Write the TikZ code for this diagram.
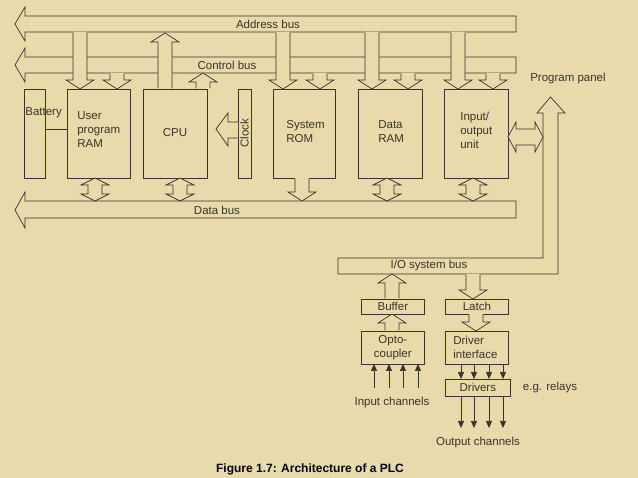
\documentclass[tikz,border=0pt]{standalone}
\usepackage{fontspec}
\setmainfont{Liberation Sans}
\usetikzlibrary{arrows.meta,positioning}
\definecolor{plcbg}{HTML}{E8DAAA}
\definecolor{plcline}{HTML}{3A352A}

% hollow block arrows (x, start, tip)
\newcommand{\blkdown}[3]{%
  \fill[plcbg] (#1-7,#2) -- (#1-7,#3-9) -- (#1-14,#3-9) -- (#1,#3) -- (#1+14,#3-9) -- (#1+7,#3-9) -- (#1+7,#2) -- cycle;
  \draw (#1-7,#2+0.6) -- (#1-7,#3-9) -- (#1-14,#3-9) -- (#1,#3) -- (#1+14,#3-9) -- (#1+7,#3-9) -- (#1+7,#2+0.6);}
\newcommand{\blkup}[3]{%
  \fill[plcbg] (#1-7,#2) -- (#1-7,#3+9) -- (#1-14,#3+9) -- (#1,#3) -- (#1+14,#3+9) -- (#1+7,#3+9) -- (#1+7,#2) -- cycle;
  \draw (#1-7,#2-0.6) -- (#1-7,#3+9) -- (#1-14,#3+9) -- (#1,#3) -- (#1+14,#3+9) -- (#1+7,#3+9) -- (#1+7,#2-0.6);}
\newcommand{\blkupdown}[3]{%
  \draw[fill=plcbg] (#1,#2) -- (#1+14,#2+7) -- (#1+7,#2+7) -- (#1+7,#3-7) -- (#1+14,#3-7) -- (#1,#3)
    -- (#1-14,#3-7) -- (#1-7,#3-7) -- (#1-7,#2+7) -- (#1-14,#2+7) -- cycle;}

\begin{document}
\begin{tikzpicture}[x=1pt,y=-1pt,line width=0.7pt,plcline,
    blk/.style={draw,fill=plcbg,inner sep=0pt,anchor=north west},
    lbl/.style={font=\fontsize{11.5}{14}\selectfont,text=plcline,align=left,inner sep=1pt},
    sig/.style={-{Triangle[length=7pt,width=6pt]}}]
  \useasboundingbox[fill=plcbg] (0,0) rectangle (638,478);

  % ---- Buses ---------------------------------------------
  \draw[fill=plcbg] (516,16) -- (25,16) -- (25,7) -- (15,24) -- (25,41) -- (25,32) -- (516,32) -- cycle;
  \draw[fill=plcbg] (516,57) -- (25,57) -- (25,48) -- (15,65) -- (25,82) -- (25,73) -- (516,73) -- cycle;
  \draw[fill=plcbg] (516,201) -- (25,201) -- (25,192) -- (15,210) -- (25,228) -- (25,218) -- (516,218) -- cycle;
  \node[lbl] (addr) at (268,24) {Address bus};
  \node[lbl] (ctrl) at (227,65) {Control bus};
  \node[lbl] (data) at (217,210) {Data bus};

  % ---- Modules -------------------------------------------
  \node[blk,minimum width=21pt,minimum height=89pt] (bat) at (24,89) {};
  \node[lbl,anchor=north west] at (24,106) {Battery};
  \node[blk,minimum width=63pt,minimum height=89pt] (uram) at (67,89) {};
  \node[lbl,anchor=north west] at (76,110) {User\\program\\RAM};
  \node[blk,minimum width=64pt,minimum height=89pt] (cpu) at (143,89) {};
  \node[lbl] at (175,133) {CPU};
  \node[blk,minimum width=13pt,minimum height=89pt] (clk) at (238,89) {};
  \node[lbl,rotate=90] at (244.5,133) {Clock};
  \node[blk,minimum width=62pt,minimum height=89pt] (rom) at (273,89) {};
  \node[lbl,anchor=north west] at (285,119) {System\\ROM};
  \node[blk,minimum width=64pt,minimum height=89pt] (dram) at (358,89) {};
  \node[lbl,anchor=north west] at (377,119) {Data\\RAM};
  \node[blk,minimum width=64pt,minimum height=89pt] (iou) at (444,89) {};
  \node[lbl,anchor=north west] at (459,111) {Input/\\output\\unit};
  \draw (bat.east |- 0,129) -- (uram.west |- 0,129);

  % ---- Address and control arrows ------------------------
  \blkdown{80}{32}{89}   \blkdown{117}{73}{89}
  \blkdown{283}{32}{89}  \blkdown{320}{73}{89}
  \blkdown{372}{32}{89}  \blkdown{408}{73}{89}
  \blkdown{458}{32}{89}  \blkdown{493}{73}{89}
  \blkup{165}{89}{33}
  \blkup{203}{89}{73}
  % Clock to CPU
  \fill[plcbg] (238,122) -- (228,122) -- (228,113) -- (216,129) -- (228,146) -- (228,138) -- (238,138) -- cycle;
  \draw (238.6,122) -- (228,122) -- (228,113) -- (216,129) -- (228,146) -- (228,138) -- (238.6,138);

  % ---- Data bus arrows -----------------------------------
  \blkupdown{95}{178}{201}
  \blkupdown{180}{178}{201}
  \blkdown{302}{178}{201}
  \blkupdown{387}{178}{201}
  \blkupdown{473}{178}{201}

  % ---- Program panel and I/O system bus ------------------
  \draw[fill=plcbg] (338,258) -- (543,258) -- (543,113) -- (537,113) -- (550.5,97) -- (565,113)
    -- (558,113) -- (558,274) -- (338,274) -- cycle;
  \draw[fill=plcbg] (508,137) -- (516,122) -- (516,129) -- (535,129) -- (535,122) -- (543,137)
    -- (535,152) -- (535,145) -- (516,145) -- (516,152) -- cycle;
  \node[lbl] (panel) at (568,79) {Program panel};
  \node[lbl] (iobus) at (429,266) {I/O system bus};

  % ---- I/O interface -------------------------------------
  \node[blk,minimum width=63pt,minimum height=15pt] (buf) at (361,299) {};
  \node[lbl] at (buf.center) {Buffer};
  \node[blk,minimum width=63pt,minimum height=15pt] (latch) at (445,299) {};
  \node[lbl] at (latch.center) {Latch};
  \node[blk,minimum width=63pt,minimum height=33pt] (opto) at (361,331) {};
  \node[lbl,align=center] at (opto.center) {Opto-\\coupler};
  \node[blk,minimum width=63pt,minimum height=33pt] (drvif) at (445,331) {};
  \node[lbl,anchor=west] at (452,347.5) {Driver\\interface};
  \node[blk,minimum width=65pt,minimum height=17pt] (drv) at (445,379) {};
  \node[lbl] at (drv.center) {Drivers};
  \node[lbl] (relay) at (550,388) {e.g. relays};
  \blkup{392}{299}{274}
  \blkup{392}{331}{314}
  \blkdown{473}{274}{299}
  \blkdown{476}{314}{331}

  % ---- Channels ------------------------------------------
  \foreach \x in {374,389,403,418}
    \draw[sig] (\x,388) -- (\x,364);
  \foreach \x in {461,474,489,503} {
    \draw[sig] (\x,364) -- (\x,379);
    \draw[sig] (\x,396) -- (\x,428);
  }
  \node[lbl] (inch) at (392,403) {Input channels};
  \node[lbl] (outch) at (478,443) {Output channels};

  % ---- Caption -------------------------------------------
  \node[font=\bfseries\fontsize{12}{14}\selectfont,text=black,inner sep=1pt] (cap) at (310,469) {Figure 1.7: Architecture of a PLC};
\end{tikzpicture}
\end{document}
